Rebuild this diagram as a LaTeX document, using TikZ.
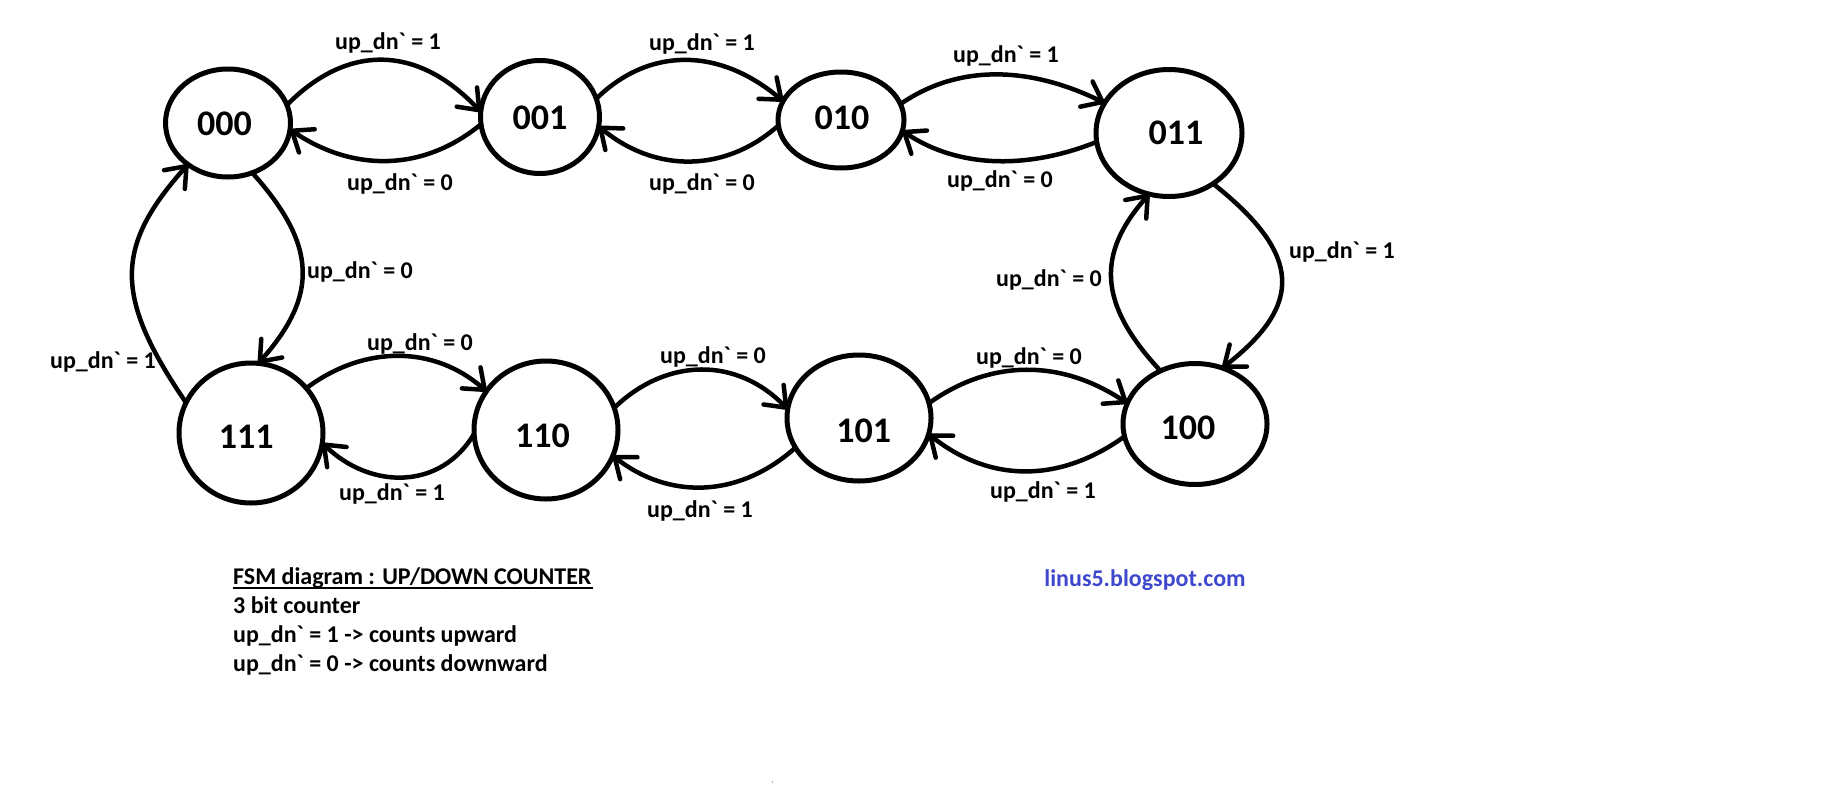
\documentclass[tikz,border=0pt]{standalone}
\usepackage{fontspec}
\usetikzlibrary{arrows.meta,shapes.geometric}
\newfontfamily\carl[BoldFont={Carlito Bold}]{Carlito}
\newcommand{\updn}[1]{up\_dn` = #1}
\definecolor{linkblue}{RGB}{63,72,204}
\tikzset{
  st/.style={ellipse,draw=black,line width=5pt,inner sep=0pt,outer sep=0pt,font=\carl\bfseries\fontsize{36}{40}\selectfont,text depth=0pt},
  tr/.style={line width=4.5pt,line cap=round,line join=round,-{Straight Barb[length=18pt,width=28pt,line width=4.5pt,round]}},
  lb/.style={inner sep=0pt,font=\carl\bfseries\fontsize{24}{28}\selectfont},
  el/.style={lb,yshift=-2pt},
  lg/.style={lb,anchor=base west}
}
\begin{document}
\begin{tikzpicture}[x=1pt,y=-1pt]
\useasboundingbox (0,0) rectangle (1838,787);
\node[st,text height=25pt,minimum width=125pt,minimum height=108pt] (n000) at (228,123) {\kern-7pt 000};
\node[st,text height=25pt,minimum width=119pt,minimum height=113pt] (n001) at (540,117) {001};
\node[st,text height=23pt,text depth=4.6pt,minimum width=126pt,minimum height=96pt] (n010) at (841,120) {\kern2pt 010};
\node[st,text height=23pt,minimum width=146pt,minimum height=127pt] (n011) at (1169,133) {\kern14pt 011};
\node[st,text height=30pt,minimum width=144pt,minimum height=121pt] (n100) at (1195,424) {\kern-14pt 100};
\node[st,text height=49pt,minimum width=144pt,minimum height=126pt] (n101) at (859,418) {\kern9.4pt 101};
\node[st,text height=35pt,minimum width=144pt,minimum height=138pt] (n110) at (546,430) {\kern-7pt 110};
\node[st,text height=30pt,minimum width=144pt,minimum height=140pt] (n111) at (251,433) {\kern-9.4pt 111};

\draw[tr] (n000.17) .. controls (347,44) and (417,44) .. (n001.175);
\draw[tr] (n001.187) .. controls (423,172) and (353,172) .. (n000.-6);
\draw[tr] (n001.18) .. controls (649,47) and (719,47) .. (n010.162);
\draw[tr] (n010.185) .. controls (725,173) and (655,173) .. (n001.-9.5);
\draw[tr] (n010.15) .. controls (957,65) and (1027,65) .. (n011.155);
\draw[tr] (n011.187) .. controls (1029,169) and (959,169) .. (n010.-10);
\draw[tr] (n011.-49) .. controls (1303,255) and (1303,305) .. (n100.64);
\draw[tr] (n100.123) .. controls (1097,303) and (1097,253) .. (n011.252);
\draw[tr] (n100.190) .. controls (1060,483) and (990,483) .. (n101.-13);
\draw[tr] (n101.12) .. controls (991,359) and (1061,359) .. (n100.163);
\draw[tr] (n101.205) .. controls (738,499) and (668,499) .. (n110.-21);
\draw[tr] (n110.18) .. controls (667,357) and (737,357) .. (n101.173);
\draw[tr] (n110.183) .. controls (441,490) and (371,490) .. (n111.-8);
\draw[tr] (n111.39) .. controls (364,345) and (434,345) .. (n110.147);
\draw[tr] (n000.-64) .. controls (318,246) and (318,296) .. (n111.84);
\draw[tr] (n111.155) .. controls (114,297) and (114,247) .. (n000.226);

\node[el] (l1) at (388,41) {\updn{1}};
\node[el] (l2) at (702,42) {\updn{1}};
\node[el] (l3) at (1006,54) {\updn{1}};
\node[el] (l4) at (1342,250) {\updn{1}};
\node[el] (l5) at (1049,278) {\updn{0}};
\node[el] (l6) at (1029,356) {\updn{0}};
\node[el] (l7) at (713,355) {\updn{0}};
\node[el] (l8) at (420,342) {\updn{0}};
\node[el] (l9) at (360,270) {\updn{0}};
\node[el] (l10) at (103,360) {\updn{1}};
\node[el] (l11) at (392,492) {\updn{1}};
\node[el] (l12) at (700,509) {\updn{1}};
\node[el] (l13) at (1043,490) {\updn{1}};
\node[el] (l14) at (400,182) {\updn{0}};
\node[el] (l15) at (702,182) {\updn{0}};
\node[el] (l16) at (1000,179) {\updn{0}};

\node[lg] (t1) at (233,584) {FSM diagram : UP/DOWN COUNTER};
\draw[line width=2.2pt] (233,588) -- (593,588);
\node[lg] (t2) at (233,613) {3 bit counter};
\node[lg] (t3) at (233,642) {\updn{1} -> counts upward};
\node[lg] (t4) at (233,671) {\updn{0} -> counts downward};
\node[el,text=linkblue] (link) at (1145,578) {linus5.blogspot.com};
\draw[line width=0.7pt,gray!60] (772,781) -- (772,783);
\end{tikzpicture}
\end{document}
